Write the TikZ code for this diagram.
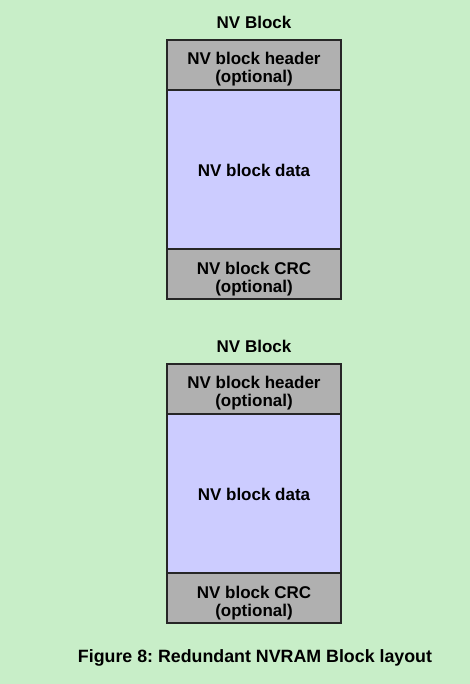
\documentclass[tikz,border=0pt]{standalone}
\usepackage{fontspec}
\setmainfont{Liberation Sans}
\frenchspacing
\definecolor{bggreen}{HTML}{C8EEC8}
\definecolor{optgray}{HTML}{B0B0B0}
\definecolor{datablue}{HTML}{CCCCFF}
\tikzset{
  optbox/.style={draw=black!85,line width=1.2pt,fill=optgray},
  databox/.style={draw=black!85,line width=1.2pt,fill=datablue},
  lbl/.style={font=\fontsize{17}{18}\selectfont\bfseries,align=center}
}
\begin{document}
\begin{tikzpicture}[x=1pt,y=-1pt]
    \fill[bggreen] (0,0) rectangle (470,684);
    \useasboundingbox (0,0) rectangle (470,684);

    \foreach \b/\dy in {a/0,b/324} {
      \begin{scope}[yshift=-\dy pt]
        \node[lbl] (title\b) at (254,22.5) {NV Block};
        \draw[databox] (167,90) rectangle (341,249);
        \draw[optbox] (167,40) rectangle (341,90);
        \draw[optbox] (167,249) rectangle (341,299);
        \node[lbl] (head\b) at (254,69.5) {NV block header\\(optional)};
        \node[lbl] (data\b) at (254,170) {NV block data};
        \node[lbl] (crc\b) at (254,279) {NV block CRC\\(optional)};
      \end{scope}
    }

    \node[font=\fontsize{17.8}{20}\selectfont\bfseries] (caption) at (255,658) {Figure 8: Redundant NVRAM Block layout};
\end{tikzpicture}
\end{document}
